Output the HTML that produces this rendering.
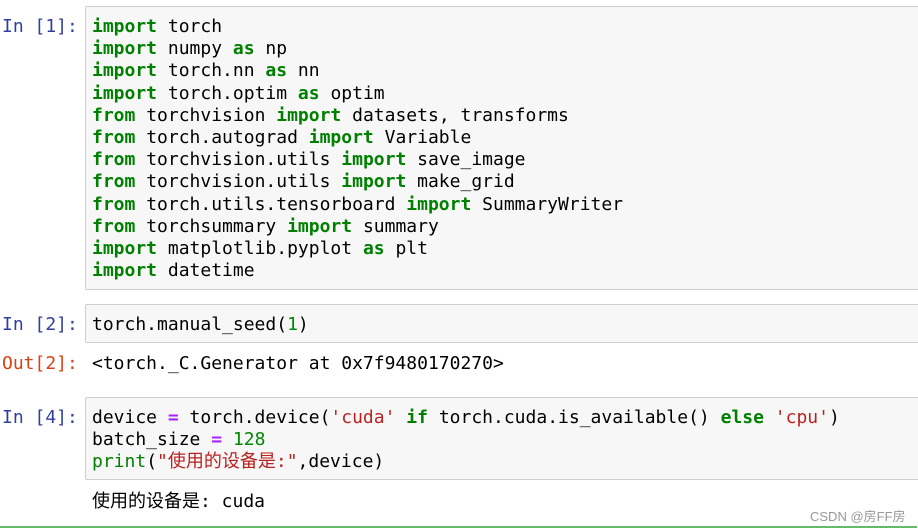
<!DOCTYPE html>
<html><head><meta charset="utf-8"><style>
body{margin:0;width:918px;height:531px;background:#fff;position:relative;overflow:hidden;font-family:"DejaVu Sans Mono","Liberation Mono","Noto Sans CJK SC",monospace;font-size:18px;}
.p{position:absolute;left:2px;line-height:22.2px;white-space:pre}
.in{color:#303f9f}.out{color:#d84315}
.box{position:absolute;left:85px;width:840px;background:#f7f7f7;border:1px solid #cfcfcf;border-radius:2px;box-sizing:border-box;padding:9px 6px 5px;line-height:22.2px;white-space:pre;color:#000}
.k{color:#008000;font-weight:bold}.o{color:#aa22ff;font-weight:bold}.n{color:#008800}.s{color:#ba2121}.b{color:#008000}
.t{position:absolute;left:92px;line-height:22.2px;white-space:pre}
</style></head><body>
<div class="p in" style="top:16px">In [1]:</div>
<div class="box" style="top:6px;height:284px"><span class="k">import</span> torch
<span class="k">import</span> numpy <span class="k">as</span> np
<span class="k">import</span> torch.nn <span class="k">as</span> nn
<span class="k">import</span> torch.optim <span class="k">as</span> optim
<span class="k">from</span> torchvision <span class="k">import</span> datasets, transforms
<span class="k">from</span> torch.autograd <span class="k">import</span> Variable
<span class="k">from</span> torchvision.utils <span class="k">import</span> save_image
<span class="k">from</span> torchvision.utils <span class="k">import</span> make_grid
<span class="k">from</span> torch.utils.tensorboard <span class="k">import</span> SummaryWriter
<span class="k">from</span> torchsummary <span class="k">import</span> summary
<span class="k">import</span> matplotlib.pyplot <span class="k">as</span> plt
<span class="k">import</span> datetime</div>
<div class="p in" style="top:314px">In [2]:</div>
<div class="box" style="top:304px;height:39px">torch.manual_seed(<span class="n">1</span>)</div>
<div class="p out" style="top:353px">Out[2]:</div>
<div class="t" style="top:353px">&lt;torch._C.Generator at 0x7f9480170270&gt;</div>
<div class="p in" style="top:407px">In [4]:</div>
<div class="box" style="top:397px;height:83px">device <span class="o">=</span> torch.device(<span class="s">'cuda'</span> <span class="k">if</span> torch.cuda.is_available() <span class="k">else</span> <span class="s">'cpu'</span>)
batch_size <span class="o">=</span> <span class="n">128</span>
<span class="b">print</span>(<span class="s">"使用的设备是:"</span>,device)</div>
<div class="t" style="top:491px">使用的设备是: cuda</div>
<div style="position:absolute;left:810px;top:506px;font-family:'Liberation Sans','Noto Sans CJK SC',sans-serif;font-size:13px;color:#999">CSDN @房FF房</div>
<div style="position:absolute;left:0;top:526px;width:917px;height:2px;background:#66bb6a"></div>
</body></html>
